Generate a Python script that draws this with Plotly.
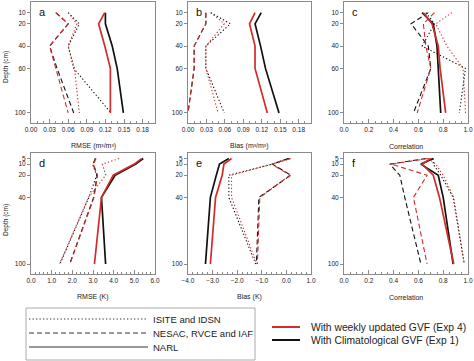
import plotly.graph_objects as go

W, H = 474, 361

depth_sm = [10, 20, 40, 60, 100]
depth_st = [5, 10, 20, 40, 100]

# (a) soil moisture RMSE (m3/m3)
sm_rmse_isite_exp4 = [0.060, 0.074, 0.060, 0.070, 0.078]
sm_rmse_isite_exp1 = [0.060, 0.078, 0.060, 0.069, 0.129]
sm_rmse_nesac_exp4 = [0.040, 0.060, 0.030, 0.040, 0.060]
sm_rmse_nesac_exp1 = [0.040, 0.060, 0.030, 0.042, 0.069]
sm_rmse_narl_exp4 = [0.119, 0.109, 0.119, 0.128, 0.128]
sm_rmse_narl_exp1 = [0.120, 0.120, 0.131, 0.139, 0.149]

# (b) soil moisture bias (m3/m3)
sm_bias_isite_exp4 = [0.037, 0.059, 0.029, 0.029, 0.049]
sm_bias_isite_exp1 = [0.037, 0.069, 0.029, 0.029, 0.059]
sm_bias_nesac_exp4 = [0.029, 0.029, 0.010, 0.010, 0.000]
sm_bias_nesac_exp1 = [0.029, 0.029, 0.010, 0.010, 0.000]
sm_bias_narl_exp4 = [0.109, 0.100, 0.109, 0.109, 0.129]
sm_bias_narl_exp1 = [0.119, 0.109, 0.118, 0.126, 0.148]

# (c) soil moisture correlation
sm_corr_isite_exp4 = [0.87, 0.74, 0.83, 0.96, 0.98]
sm_corr_isite_exp1 = [0.66, 0.73, 0.63, 0.98, 0.93]
sm_corr_nesac_exp4 = [0.73, 0.64, 0.66, 0.70, 0.59]
sm_corr_nesac_exp1 = [0.68, 0.54, 0.68, 0.70, 0.56]
sm_corr_narl_exp4 = [0.64, 0.71, 0.76, 0.775, 0.82]
sm_corr_narl_exp1 = [0.63, 0.72, 0.75, 0.76, 0.78]

# (d) soil temperature RMSE (K)
st_rmse_isite_exp4 = [4.26, 3.45, 3.62, 2.78, 1.38]
st_rmse_isite_exp1 = [3.12, 2.98, 3.18, 2.80, 1.40]
st_rmse_nesac_exp4 = [3.15, 3.02, 3.22, 3.05, 1.88]
st_rmse_nesac_exp1 = [3.12, 3.00, 3.20, 3.03, 1.87]
st_rmse_narl_exp4 = [5.35, 5.00, 3.98, 3.41, 3.07]
st_rmse_narl_exp1 = [5.43, 5.07, 4.07, 3.41, 3.61]

# (e) soil temperature bias (K)
st_bias_isite_exp4 = [0.15, -0.57, -2.23, -2.23, -1.20]
st_bias_isite_exp1 = [0.05, -0.57, -2.34, -2.34, -1.25]
st_bias_nesac_exp4 = [0.18, -0.60, 0.15, -1.08, -1.18]
st_bias_nesac_exp1 = [0.10, -0.57, 0.18, -1.12, -1.22]
st_bias_narl_exp4 = [-2.23, -2.54, -2.61, -2.88, -3.09]
st_bias_narl_exp1 = [-2.34, -2.72, -2.85, -3.09, -3.29]

# (f) soil temperature correlation
st_corr_isite_exp4 = [0.68, 0.74, 0.80, 0.885, 0.97]
st_corr_isite_exp1 = [0.72, 0.72, 0.78, 0.88, 0.97]
st_corr_nesac_exp4 = [0.68, 0.38, 0.67, 0.56, 0.67]
st_corr_nesac_exp1 = [0.66, 0.37, 0.45, 0.49, 0.62]
st_corr_narl_exp4 = [0.70, 0.63, 0.72, 0.77, 0.885]
st_corr_narl_exp1 = [0.72, 0.62, 0.76, 0.80, 0.88]

panel_letters = ["a", "b", "c", "d", "e", "f"]
x_titles = ["RMSE (m³/m³)", "Bias (m³/m³)", "Correlation",
            "RMSE (K)", "Bias (K)", "Correlation"]
sm_ticks = [10, 20, 40, 60, 100]
st_ticks = [5, 10, 20, 40, 100]
site_names = ["ISITE and IDSN", "NESAC, RVCE and IAF", "NARL"]
exp_names = ["With weekly updated GVF (Exp 4)", "With Climatological GVF (Exp 1)"]

RED = "#d42a2a"
BLACK = "#111111"
DOT = "1.3px,2.2px"
DASH = "5px,3px"
GRID = "#8a8a8a"
FONT = "Liberation Sans, Arial, sans-serif"

panels = [
    (depth_sm, [(sm_rmse_isite_exp4, sm_rmse_isite_exp1), (sm_rmse_nesac_exp4, sm_rmse_nesac_exp1), (sm_rmse_narl_exp4, sm_rmse_narl_exp1)]),
    (depth_sm, [(sm_bias_isite_exp4, sm_bias_isite_exp1), (sm_bias_nesac_exp4, sm_bias_nesac_exp1), (sm_bias_narl_exp4, sm_bias_narl_exp1)]),
    (depth_sm, [(sm_corr_isite_exp4, sm_corr_isite_exp1), (sm_corr_nesac_exp4, sm_corr_nesac_exp1), (sm_corr_narl_exp4, sm_corr_narl_exp1)]),
    (depth_st, [(st_rmse_isite_exp4, st_rmse_isite_exp1), (st_rmse_nesac_exp4, st_rmse_nesac_exp1), (st_rmse_narl_exp4, st_rmse_narl_exp1)]),
    (depth_st, [(st_bias_isite_exp4, st_bias_isite_exp1), (st_bias_nesac_exp4, st_bias_nesac_exp1), (st_bias_narl_exp4, st_bias_narl_exp1)]),
    (depth_st, [(st_corr_isite_exp4, st_corr_isite_exp1), (st_corr_nesac_exp4, st_corr_nesac_exp1), (st_corr_narl_exp4, st_corr_narl_exp1)]),
]

styles = [(DOT, 1.1), (DASH, 1.1), ("solid", 1.7)]

fig = go.Figure()

def px_x(p):
    return p / W

def px_y(p):
    return 1 - p / H

col_px = [(31, 155), (188, 311), (344, 468)]
row_px = [(1.5, 123), (153, 274)]

x_ranges = [[0, 0.2], [0, 0.2], [0, 1.0], [0, 6.0], [-4.0, 1.0], [0, 1.0]]
x_dticks = [0.03, 0.03, 0.2, 1.0, 1.0, 0.2]
x_minor = [0.01, 0.01, 0.05, 0.2, 0.2, 0.05]
x_fmt = [".2f", ".2f", ".1f", ".1f", ".1f", ".1f"]

for i, (depths, groups) in enumerate(panels):
    ax = "" if i == 0 else str(i + 1)
    for (dash, lw), (v4, v1) in zip(styles, groups):
        for vals, col in ((v1, BLACK), (v4, RED)):
            fig.add_trace(go.Scatter(
                x=vals, y=depths, mode="lines",
                line=dict(color=col, width=lw, dash=dash),
                xaxis="x" + ax, yaxis="y" + ax, showlegend=False,
                hoverinfo="skip"))
    r, c = divmod(i, 3)
    x0, x1 = col_px[c]
    y0, y1 = row_px[r]
    fig.layout["xaxis" + ax] = dict(
        domain=[px_x(x0), px_x(x1)], anchor="y" + ax, range=x_ranges[i],
        dtick=x_dticks[i], tick0=x_ranges[i][0],
        tickformat=x_fmt[i], ticks="inside", ticklen=4, tickwidth=1,
        tickcolor=GRID, showline=True, mirror=True, linecolor=GRID,
        linewidth=1, showgrid=False, zeroline=False, automargin=False,
        tickfont=dict(size=6.5, color="#222", family=FONT),
        minor=dict(ticks="inside", ticklen=2, dtick=x_minor[i],
                   tick0=x_ranges[i][0], tickcolor=GRID, showgrid=False))
    fig.layout["yaxis" + ax] = dict(
        domain=[px_y(y1), px_y(y0)], anchor="x" + ax, range=[109, 0],
        tickvals=sm_ticks if r == 0 else st_ticks, ticks="outside",
        ticklen=3, tickcolor=GRID, showline=True, mirror=True,
        linecolor=GRID, linewidth=1, showgrid=False, zeroline=False,
        automargin=False,
        tickfont=dict(size=6.5, color="#222", family=FONT))
    fig.add_annotation(text=panel_letters[i], xref="paper", yref="paper",
                       x=px_x(x0 + 6), y=px_y(y0 + 10), xanchor="left",
                       yanchor="middle", showarrow=False,
                       font=dict(size=11, color="#111", family=FONT))
    fig.add_annotation(text=x_titles[i], xref="paper", yref="paper",
                       x=px_x((x0 + x1) / 2), y=px_y(y1 + 23),
                       xanchor="center", yanchor="middle", showarrow=False,
                       font=dict(size=7, color="#222", family=FONT))

for r, ymid in enumerate([67, 220]):
    fig.add_annotation(text="Depth (cm)", xref="paper", yref="paper",
                       x=px_x(6), y=px_y(ymid), textangle=-90,
                       xanchor="center", yanchor="middle", showarrow=False,
                       font=dict(size=6.5, color="#222", family=FONT))

# legend box (sites / line styles)
fig.add_shape(type="rect", xref="paper", yref="paper",
              x0=px_x(26), x1=px_x(255), y0=px_y(360), y1=px_y(308),
              line=dict(color="#aaaaaa", width=1))
for k, (name, (dash, lw)) in enumerate(zip(site_names, styles)):
    yy = 319 + k * 14
    fig.add_shape(type="line", xref="paper", yref="paper",
                  x0=px_x(29), x1=px_x(148), y0=px_y(yy), y1=px_y(yy),
                  line=dict(color="#333", width=1, dash=dash))
    fig.add_annotation(text=name, xref="paper", yref="paper",
                       x=px_x(151), y=px_y(yy), xanchor="left",
                       yanchor="middle", showarrow=False,
                       font=dict(size=9.5, color="#222", family=FONT))

# legend (experiments / colours)
for k, (name, col) in enumerate(zip(exp_names, [RED, BLACK])):
    yy = 327 + k * 13
    fig.add_shape(type="line", xref="paper", yref="paper",
                  x0=px_x(272), x1=px_x(300), y0=px_y(yy), y1=px_y(yy),
                  line=dict(color=col, width=2))
    fig.add_annotation(text=name, xref="paper", yref="paper",
                       x=px_x(309), y=px_y(yy), xanchor="left",
                       yanchor="middle", showarrow=False,
                       font=dict(size=10.3, color="#222", family=FONT))

fig.update_layout(width=W, height=H, margin=dict(l=0, r=0, t=0, b=0, autoexpand=False),
                  paper_bgcolor="white", plot_bgcolor="white",
                  showlegend=False, font=dict(family=FONT))

fig.write_html("out.html", config={"displayModeBar": False},
               post_script="document.body.style.margin='0';document.body.style.overflow='hidden';")
